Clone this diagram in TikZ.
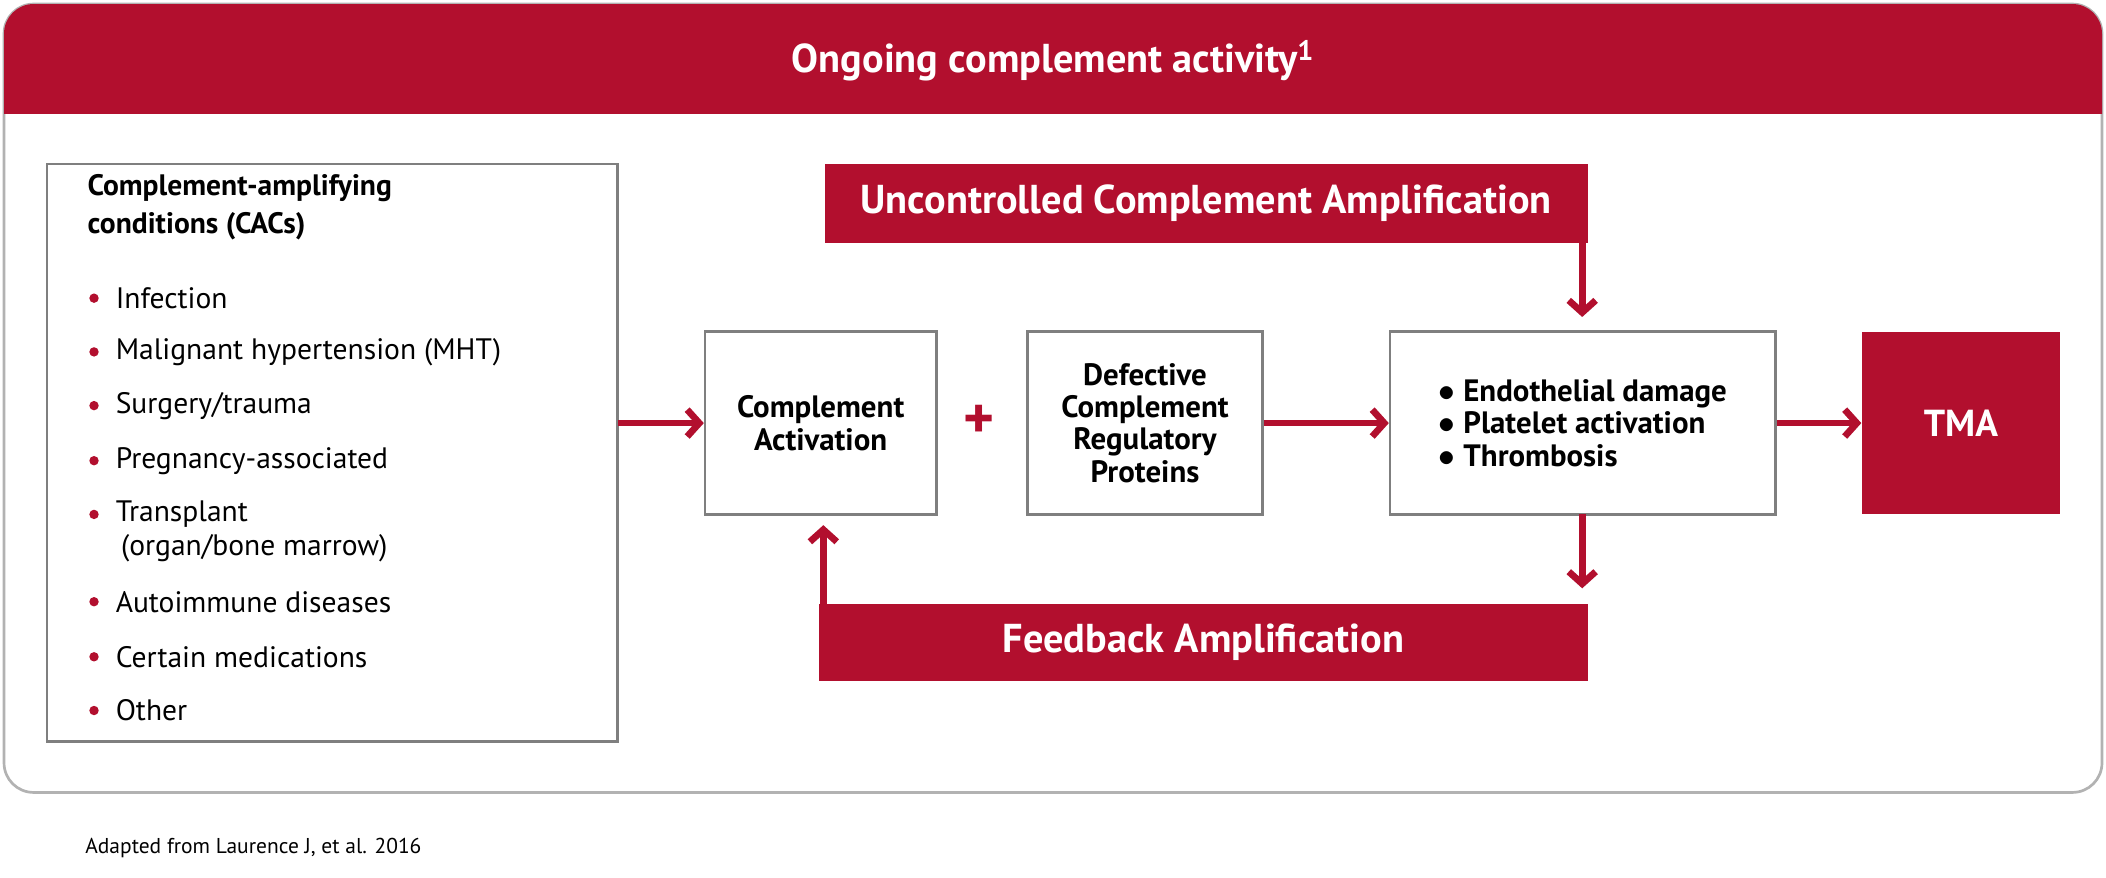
\documentclass[tikz,border=0pt]{standalone}
\usepackage{fontspec}
\setmainfont{PT Sans}
\usetikzlibrary{arrows.meta}
\definecolor{cr}{HTML}{B20F2E}
\definecolor{gb}{HTML}{7F7F7F}
\begin{document}
\begin{tikzpicture}[x=1pt,y=-1pt,
 box/.style={draw=gb,line width=2pt,fill=white},
 bt/.style={font=\fontsize{23}{24}\selectfont\bfseries,align=center},
 arr/.style={draw=cr,line width=5pt,-{Straight Barb[length=9pt,width=20pt,line width=5pt]}},
 li/.style={anchor=west,font=\fontsize{22}{24}\selectfont,inner sep=0pt},
 dot/.style={circle,fill=cr,inner sep=0pt,minimum size=7pt}]
\useasboundingbox (0,0) rectangle (1568,653);
\draw[draw=black!30,line width=2pt,fill=white,rounded corners=22pt] (3,3) rectangle (1565,590);
\begin{scope}
\clip[rounded corners=22pt] (3,3) rectangle (1565,590);
\fill[cr] (0,0) rectangle (1568,85);
\end{scope}
\node[text=white,font=\fontsize{30}{32}\selectfont\bfseries] (title) at (784,45) {Ongoing complement activity\textsuperscript{1}};
% left box
\draw[box] (35,122) rectangle (460,552);
\coordinate (lbr) at (460,315);
\node[li,font=\fontsize{22}{28}\selectfont\bfseries,align=left,anchor=north west] (lt) at (65,130) {Complement-amplifying\\conditions (CACs)};
\foreach \y/\t [count=\i] in {222/Infection,262/Malignant hypertension (MHT),302/{Surgery/trauma},343/Pregnancy-associated,383/Transplant,448/Autoimmune diseases,489/Certain medications,529/Other}{
 \node[dot] (d\i) at (70,\y) {};
 \node[li] (t\i) at (86,\y) {\t};
}
\node[li] (t5b) at (90,408) {(organ/bone marrow)};
% boxes
\node[box,bt,minimum width=172pt,minimum height=136pt] (ca) at (611,315) {Complement\\Activation};
\node[text=cr,font=\fontsize{44}{44}\selectfont\bfseries] (plus) at (729,314) {+};
\node[box,bt,minimum width=175pt,minimum height=136pt] (dc) at (852.5,315) {Defective\\Complement\\Regulatory\\Proteins};
\node[box,bt,align=left,minimum width=287pt,minimum height=136pt] (ed) at (1178.5,315) {$\bullet$ Endothelial damage\\$\bullet$ Platelet activation\\$\bullet$ Thrombosis};
\node[fill=cr,text=white,font=\fontsize{28}{30}\selectfont\bfseries,minimum width=148pt,minimum height=136pt] (tma) at (1460,315) {TMA};
\node[fill=cr,text=white,font=\fontsize{30}{32}\selectfont\bfseries,minimum width=568pt,minimum height=59pt] (uca) at (898,151.5) {Uncontrolled Complement Amplification};
\node[fill=cr,text=white,font=\fontsize{30}{32}\selectfont\bfseries,minimum width=572pt,minimum height=57pt] (fa) at (896,478.5) {Feedback Amplification};
% arrows
\draw[arr] (lbr) -- (lbr -| ca.west);
\draw[arr] (dc.east) -- (ed.west);
\draw[arr] (ed.east) -- (tma.west);
\draw[arr] (1178,181) -- (1178,236);
\draw[arr] (1178,383) -- (1178,438);
\draw[arr] (613,450) -- (613,391);
\node[anchor=west,font=\fontsize{16}{18}\selectfont] (src) at (60,631) {Adapted from Laurence J, et al. 2016};
\end{tikzpicture}
\end{document}
